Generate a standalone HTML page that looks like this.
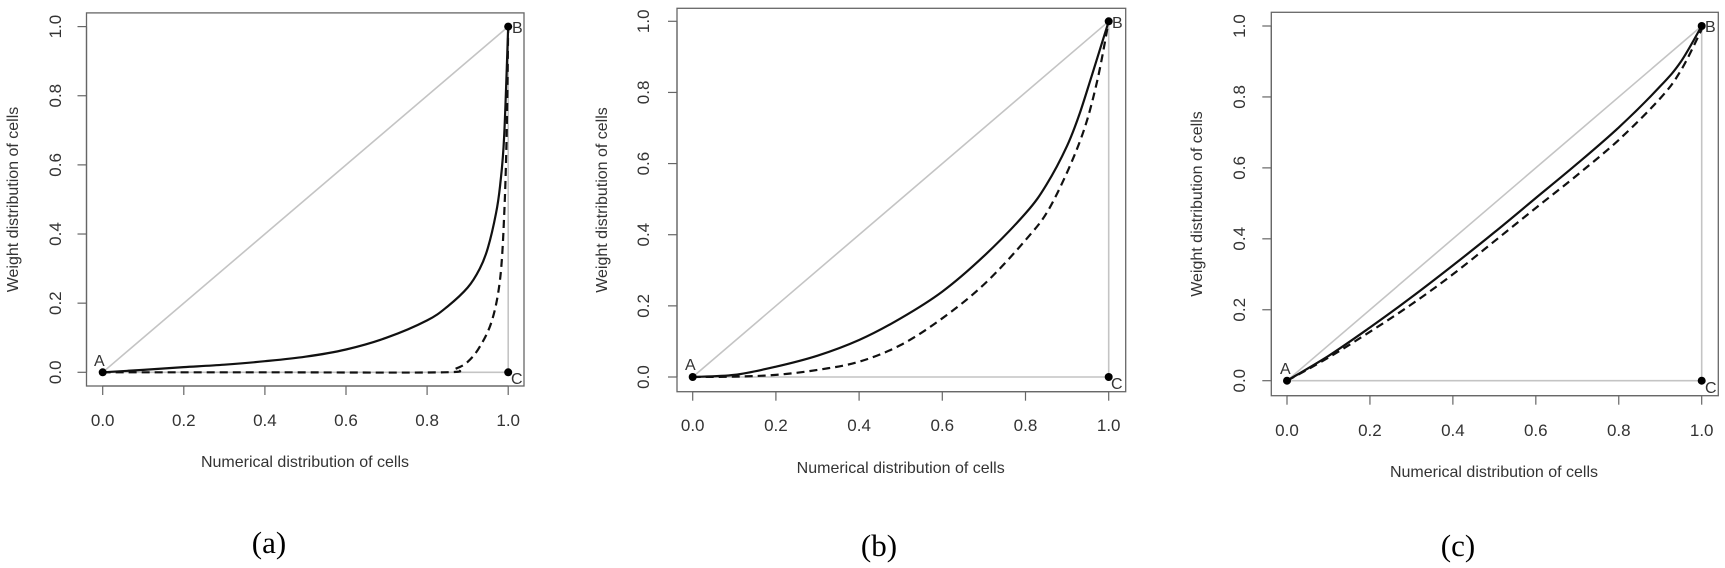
<!DOCTYPE html>
<html><head><meta charset="utf-8"><style>
html,body{margin:0;padding:0;background:#fff;}
svg{display:block;}
.t{font-family:"Liberation Sans",sans-serif;font-size:17px;fill:#333;}
.ti{font-family:"Liberation Sans",sans-serif;font-size:16px;fill:#333;}
.cap{font-family:"Liberation Serif",serif;font-size:31px;fill:#000;}
</style></head><body>
<svg id="s" width="1725" height="568" viewBox="0 0 1725 568" xmlns="http://www.w3.org/2000/svg">
<g id="g"></g>
<g class="t" text-anchor="middle">
<text x="102.7" y="426">0.0</text><text x="183.8" y="426">0.2</text><text x="264.9" y="426">0.4</text><text x="346" y="426">0.6</text><text x="427.1" y="426">0.8</text><text x="508.2" y="426">1.0</text>
<text transform="translate(61,372.3) rotate(-90)">0.0</text><text transform="translate(61,303.2) rotate(-90)">0.2</text><text transform="translate(61,234) rotate(-90)">0.4</text><text transform="translate(61,164.9) rotate(-90)">0.6</text><text transform="translate(61,95.7) rotate(-90)">0.8</text><text transform="translate(61,26.6) rotate(-90)">1.0</text>
</g>
<text class="ti" text-anchor="middle" x="305" y="467">Numerical distribution of cells</text>
<text class="ti" text-anchor="middle" transform="translate(18,199.5) rotate(-90)">Weight distribution of cells</text>
<text class="cap" text-anchor="middle" x="269" y="553">(a)</text>
<g class="t" text-anchor="middle">
<text x="692.7" y="431">0.0</text><text x="775.9" y="431">0.2</text><text x="859.1" y="431">0.4</text><text x="942.3" y="431">0.6</text><text x="1025.5" y="431">0.8</text><text x="1108.7" y="431">1.0</text>
<text transform="translate(649,377) rotate(-90)">0.0</text><text transform="translate(649,305.9) rotate(-90)">0.2</text><text transform="translate(649,234.7) rotate(-90)">0.4</text><text transform="translate(649,163.6) rotate(-90)">0.6</text><text transform="translate(649,92.4) rotate(-90)">0.8</text><text transform="translate(649,21.3) rotate(-90)">1.0</text>
</g>
<text class="ti" text-anchor="middle" x="900.7" y="473">Numerical distribution of cells</text>
<text class="ti" text-anchor="middle" transform="translate(607,200) rotate(-90)">Weight distribution of cells</text>
<text class="cap" text-anchor="middle" x="879" y="556">(b)</text>
<g class="t" text-anchor="middle">
<text x="1287" y="436">0.0</text><text x="1369.9" y="436">0.2</text><text x="1452.9" y="436">0.4</text><text x="1535.8" y="436">0.6</text><text x="1618.8" y="436">0.8</text><text x="1701.7" y="436">1.0</text>
<text transform="translate(1245,380.7) rotate(-90)">0.0</text><text transform="translate(1245,309.8) rotate(-90)">0.2</text><text transform="translate(1245,238.8) rotate(-90)">0.4</text><text transform="translate(1245,167.9) rotate(-90)">0.6</text><text transform="translate(1245,96.9) rotate(-90)">0.8</text><text transform="translate(1245,26) rotate(-90)">1.0</text>
</g>
<text class="ti" text-anchor="middle" x="1494" y="477">Numerical distribution of cells</text>
<text class="ti" text-anchor="middle" transform="translate(1202,204) rotate(-90)">Weight distribution of cells</text>
<text class="cap" text-anchor="middle" x="1458" y="556">(c)</text>
<g class="ti">
<text x="94" y="366">A</text><text x="512" y="33">B</text><text x="511" y="384">C</text>
<text x="685" y="370">A</text><text x="1112" y="28">B</text><text x="1111" y="389">C</text>
<text x="1280" y="374">A</text><text x="1705" y="32">B</text><text x="1705" y="393">C</text>
</g>
</svg>
<script>
var NS="http://www.w3.org/2000/svg",G=document.getElementById("g");
function el(n,a){var e=document.createElementNS(NS,n);for(var k in a)e.setAttribute(k,a[k]);G.appendChild(e);return e;}
function cr(P){var d="M"+P[0][0].toFixed(1)+","+P[0][1].toFixed(1);
for(var i=0;i<P.length-1;i++){var p0=P[i-1]||P[i],p1=P[i],p2=P[i+1],p3=P[i+2]||P[i+1];
var c1=[p1[0]+(p2[0]-p0[0])/6,p1[1]+(p2[1]-p0[1])/6],c2=[p2[0]-(p3[0]-p1[0])/6,p2[1]-(p3[1]-p1[1])/6];
d+=" C"+c1[0].toFixed(1)+","+c1[1].toFixed(1)+" "+c2[0].toFixed(1)+","+c2[1].toFixed(1)+" "+p2[0].toFixed(1)+","+p2[1].toFixed(1);}return d;}
function panel(p){
var X=function(v){return p.x0+v*p.sx},Y=function(v){return p.y0-v*p.sy};
el("rect",{x:p.bx0,y:p.by0,width:p.bx1-p.bx0,height:p.by1-p.by0,fill:"none",stroke:"#666","stroke-width":1.3});
el("line",{x1:X(0),y1:p.by1,x2:X(1),y2:p.by1,stroke:"#666","stroke-width":1.2});
el("line",{x1:p.bx0,y1:Y(0),x2:p.bx0,y2:Y(1),stroke:"#666","stroke-width":1.2});
for(var i=0;i<=5;i++){var v=i/5;
el("line",{x1:X(v),y1:p.by1,x2:X(v),y2:p.by1+9,stroke:"#666","stroke-width":1.2});
el("line",{x1:p.bx0,y1:Y(v),x2:p.bx0-9,y2:Y(v),stroke:"#666","stroke-width":1.2});}
var gs={stroke:"#c4c4c4","stroke-width":1.6,fill:"none"};
el("line",Object.assign({x1:X(0),y1:Y(0),x2:X(1),y2:Y(1)},gs));
el("line",Object.assign({x1:X(0),y1:Y(0),x2:X(1),y2:Y(0)},gs));
el("line",Object.assign({x1:X(1),y1:Y(0),x2:X(1),y2:Y(1)},gs));
var m=function(a){return a.map(function(q){return [X(q[0]),Y(q[1])]})};
el("path",{d:cr(m(p.dash)),fill:"none",stroke:"#111","stroke-width":2.2,"stroke-dasharray":"8,5"});
el("path",{d:cr(m(p.solid)),fill:"none",stroke:"#111","stroke-width":2.2});
[[0,0],[1,1],[1,0]].forEach(function(q){el("circle",{cx:X(q[0]),cy:Y(q[1]),r:4,fill:"#000"})});
}
panel({x0:102.7,sx:405.5,y0:372.3,sy:345.7,bx0:86.5,by0:12.9,bx1:524,by1:386,
solid:[[0,0],[0.1,0.007],[0.2,0.015],[0.3,0.022],[0.4,0.032],[0.5,0.045],[0.6,0.066],[0.7,0.1],[0.8,0.15],[0.85,0.19],[0.9,0.245],[0.93,0.3],[0.95,0.36],[0.97,0.46],[0.98,0.54],[0.99,0.68],[1,1]],
dash:[[0,0],[0.4,0],[0.84,0],[0.87,0.01],[0.9,0.03],[0.93,0.074],[0.96,0.15],[0.98,0.27],[0.99,0.45],[0.996,0.68],[1,1]]});
panel({x0:692.7,sx:416,y0:377,sy:355.7,bx0:677,by0:8.3,bx1:1125.7,by1:391.7,
solid:[[0,0],[0.1,0.006],[0.2,0.029],[0.3,0.06],[0.4,0.104],[0.5,0.165],[0.6,0.24],[0.7,0.34],[0.8,0.46],[0.85,0.54],[0.9,0.65],[0.93,0.74],[0.96,0.85],[1,1]],
dash:[[0,0],[0.1,0.001],[0.2,0.006],[0.3,0.02],[0.4,0.043],[0.5,0.09],[0.6,0.165],[0.7,0.26],[0.8,0.385],[0.86,0.48],[0.93,0.66],[0.97,0.82],[1,1]]});
panel({x0:1287,sx:414.7,y0:380.7,sy:354.7,bx0:1271.3,by0:12.3,bx1:1718.3,by1:395.7,
solid:[[0,0],[0.1,0.07],[0.2,0.15],[0.3,0.235],[0.4,0.325],[0.5,0.418],[0.6,0.515],[0.7,0.612],[0.8,0.714],[0.9,0.83],[0.95,0.9],[1,1]],
dash:[[0,0],[0.1,0.065],[0.2,0.138],[0.3,0.215],[0.4,0.3],[0.5,0.393],[0.6,0.487],[0.7,0.58],[0.8,0.679],[0.9,0.796],[0.95,0.875],[1,0.99]]});
</script>
</body></html>
